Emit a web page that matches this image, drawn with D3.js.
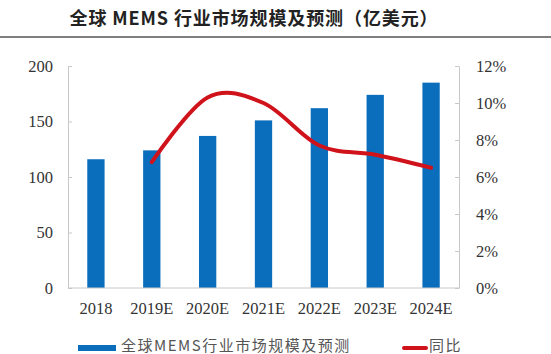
<!DOCTYPE html>
<html>
<head>
<meta charset="utf-8">
<script src="https://cdn.jsdelivr.net/npm/d3@7"></script>
<style>
  body { margin: 0; background: #fff; }
  svg { display: block; }
  .tick text { font-family: "Liberation Serif", "Times New Roman", serif; font-size: 16.5px; fill: #333; }
</style>
</head>
<body>
<script>
// chart data
const years = ["2018", "2019E", "2020E", "2021E", "2022E", "2023E", "2024E"];
const marketSize = [116, 124, 137, 151, 162, 174, 185];
const growthYears = ["2019E", "2020E", "2021E", "2022E", "2023E", "2024E"];
const growthRate = [0.068, 0.103, 0.1, 0.077, 0.072, 0.065];
const leftTicks = [0, 50, 100, 150, 200];
const rightTicks = [0, 0.02, 0.04, 0.06, 0.08, 0.10, 0.12];

const width = 551, height = 354;
const plotLeft = 68, plotRight = 459, plotTop = 66, plotBottom = 288;

var svg = d3.select("body").append("svg")
    .attr("width", width)
    .attr("height", height);

// title
svg.append("text")
    .attr("x", 254)
    .attr("y", 25)
    .attr("text-anchor", "middle")
    .style("font-family", "'Noto Sans CJK SC', sans-serif")
    .style("font-weight", "bold")
    .style("font-size", "18px")
    .style("letter-spacing", "0.9px")
    .attr("fill", "#222")
    .text("全球 MEMS 行业市场规模及预测（亿美元）");

svg.append("line")
    .attr("x1", 0).attr("x2", width)
    .attr("y1", 37).attr("y2", 37)
    .attr("stroke", "#555")
    .attr("stroke-width", 1.5);

var x = d3.scaleBand().domain(years).range([plotLeft, plotRight]).paddingInner(0.69).paddingOuter(0.345);
var yL = d3.scaleLinear().domain([0, 200]).range([plotBottom, plotTop]);
var yR = d3.scaleLinear().domain([0, 0.12]).range([plotBottom, plotTop]);

// bars
svg.selectAll("rect.bar")
    .data(marketSize)
    .enter()
    .append("rect")
    .attr("class", "bar")
    .attr("x", (d, i) => x(years[i]))
    .attr("width", x.bandwidth())
    .attr("y", d => yL(d))
    .attr("height", d => yL(0) - yL(d))
    .attr("fill", "#0a6ebd");

// axes
var gL = svg.append("g")
    .attr("transform", "translate(" + plotLeft + ",0)")
    .call(d3.axisLeft(yL).tickValues(leftTicks).tickSizeInner(-4).tickSizeOuter(0).tickPadding(15));
var gR = svg.append("g")
    .attr("transform", "translate(" + plotRight + ",0)")
    .call(d3.axisRight(yR).tickValues(rightTicks).tickSizeInner(-4).tickSizeOuter(0).tickPadding(17)
        .tickFormat(d => Math.round(d * 100) + "%"));
var gB = svg.append("g")
    .attr("transform", "translate(0," + plotBottom + ")")
    .call(d3.axisBottom(x).tickSize(0).tickPadding(14));

[gL, gR, gB].forEach(function (g) {
    g.select(".domain").attr("stroke", "#c8c8c8");
    g.selectAll(".tick line").attr("stroke", "#c8c8c8");
});
gB.select(".domain").attr("d", "M" + plotLeft + ",0H" + plotRight);

// growth line
var line = d3.line()
    .x((d, i) => x(growthYears[i]) + x.bandwidth() / 2)
    .y(d => yR(d))
    .curve(d3.curveCardinal.tension(0));

svg.append("path")
    .datum(growthRate)
    .attr("d", line)
    .attr("fill", "none")
    .attr("stroke", "#d0121b")
    .attr("stroke-width", 4)
    .attr("stroke-linecap", "round");

// legend
var legend = svg.append("g")
    .style("font-family", "'Noto Sans CJK SC', sans-serif")
    .style("font-size", "15px")
    .style("letter-spacing", "1.5px");
legend.append("rect")
    .attr("x", 78).attr("y", 345)
    .attr("width", 38).attr("height", 6)
    .attr("fill", "#0a6ebd");
legend.append("text")
    .attr("x", 121).attr("y", 351)
    .attr("fill", "#555")
    .text("全球MEMS行业市场规模及预测");
legend.append("line")
    .attr("x1", 404).attr("x2", 426)
    .attr("y1", 348).attr("y2", 348)
    .attr("stroke", "#d0121b")
    .attr("stroke-width", 4)
    .attr("stroke-linecap", "round");
legend.append("text")
    .attr("x", 429).attr("y", 351)
    .attr("fill", "#555")
    .text("同比");
</script>
</body>
</html>
